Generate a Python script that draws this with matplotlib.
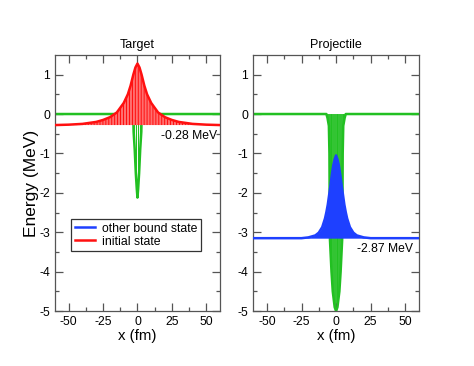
import matplotlib
matplotlib.use("Agg")
import matplotlib.pyplot as plt

plt.rcParams['font.family'] = ['Liberation Sans', 'DejaVu Sans']
plt.rcParams['axes.unicode_minus'] = False
plt.rcParams['hatch.linewidth'] = 0.8

# -----------------------------
# Data
# -----------------------------
# Target: potential well (MeV) vs x (fm)
x_pot_t = [-60, -3.2, -2.9, -2.8, -2.0, -1.2, -0.5, 0, 0.5, 1.2, 2.0, 2.8, 2.9, 3.2, 60]
v_pot_t = [0, 0, -0.3, -0.45, -0.9, -1.5, -1.9, -2.12, -1.9, -1.5, -0.9, -0.45, -0.3, 0, 0]

# Target: initial state wave function drawn on its energy level
e_init = -0.28
x_init = [-60, -50, -40, -30, -25, -20, -15, -10, -7, -5, -3, -1.5, 0,
          1.5, 3, 5, 7, 10, 15, 20, 25, 30, 40, 50, 60]
y_init = [-0.28, -0.27, -0.25, -0.20, -0.15, -0.08, 0.04, 0.28, 0.50, 0.72, 1.0, 1.18, 1.28,
          1.18, 1.0, 0.72, 0.50, 0.28, 0.04, -0.08, -0.15, -0.20, -0.25, -0.27, -0.28]

# Projectile: potential well
x_pot_p = [-60, -7, -6.2, -5.2, -4.8, -4.6, -4.4, -3.3, -2.4, -1.0, 0,
           1.0, 2.4, 3.3, 4.4, 4.6, 4.8, 5.2, 6.2, 7, 60]
v_pot_p = [0, 0, -0.1, -0.3, -1.0, -2.5, -3.2, -4.0, -4.5, -4.9, -5.0,
           -4.9, -4.5, -4.0, -3.2, -2.5, -1.0, -0.3, -0.1, 0, 0]

# Projectile: other bound state
e_other = -3.15
x_other = [-60, -25, -20, -15, -12.5, -10, -8, -7, -6, -5, -4, -3, -2, -1, 0,
           1, 2, 3, 4, 5, 6, 7, 8, 10, 12.5, 15, 20, 25, 60]
y_other = [-3.15, -3.15, -3.13, -3.08, -3.01, -2.87, -2.65, -2.49, -2.30, -2.05, -1.80, -1.53, -1.30, -1.15, -1.05,
           -1.15, -1.30, -1.53, -1.80, -2.05, -2.30, -2.49, -2.65, -2.87, -3.01, -3.08, -3.13, -3.15, -3.15]

labels = ["-0.28 MeV", "-2.87 MeV"]

red = '#ff1010'
green = '#22c022'
blue = '#1e40ff'
spine_col = '#555555'

fig = plt.figure(figsize=(4.74, 3.66), dpi=100)
ax1 = fig.add_axes([0.116, 0.150, 0.348, 0.700])
ax2 = fig.add_axes([0.534, 0.150, 0.350, 0.700])

for ax in (ax1, ax2):
    ax.set_xlim(-60, 60)
    ax.set_ylim(-5, 1.5)
    ax.set_xticks([-50, -25, 0, 25, 50])
    ax.set_xticks([-37.5, -12.5, 12.5, 37.5], minor=True)
    ax.set_yticks([-5, -4, -3, -2, -1, 0, 1])
    ax.set_yticks([-4.5, -3.5, -2.5, -1.5, -0.5, 0.5], minor=True)
    ax.tick_params(which='both', direction='in', top=True, right=True,
                   color=spine_col, labelsize=8.7, width=0.9)
    ax.tick_params(which='major', length=6)
    ax.tick_params(which='minor', length=3)
    for s in ax.spines.values():
        s.set_color(spine_col)
        s.set_linewidth(0.9)
    ax.set_xlabel("x (fm)", fontsize=10.8, labelpad=1)

# -----------------------------
# Target panel
# -----------------------------
ax1.fill_between(x_pot_t, 0, v_pot_t, facecolor='none', edgecolor=green,
                 hatch='|' * 8, linewidth=0, zorder=1)
ax1.plot(x_pot_t, v_pot_t, color=green, lw=1.8, zorder=2)
ax1.fill_between(x_init, e_init, y_init, facecolor='white', edgecolor=red,
                 hatch='|' * 11, linewidth=0, zorder=3)
ax1.plot([], [], color=blue, lw=1.8, label="other bound state")
ax1.plot(x_init, y_init, color=red, lw=1.8, zorder=4, label="initial state")
ax1.text(58, -0.57, labels[0], ha='right', va='center', fontsize=8.7)
ax1.set_title("Target", fontsize=9, pad=5)
ax1.set_ylabel("Energy (MeV)", fontsize=12.5, labelpad=0)
leg = ax1.legend(loc='upper left', bbox_to_anchor=(0.10, 0.36), borderaxespad=0,
                 fontsize=8.8, fancybox=False, framealpha=1, handlelength=1.6,
                 borderpad=0.3, labelspacing=0.1, handletextpad=0.6)
leg.get_frame().set_edgecolor('#333333')
leg.get_frame().set_linewidth(0.9)

# -----------------------------
# Projectile panel
# -----------------------------
ax2.fill_between(x_pot_p, 0, v_pot_p, facecolor='none', edgecolor=green,
                 hatch='|' * 14, linewidth=0, zorder=1)
ax2.plot(x_pot_p, v_pot_p, color=green, lw=1.8, zorder=2)
ax2.fill_between(x_other, e_other, y_other, color=blue, linewidth=0, zorder=3)
ax2.plot(x_other, y_other, color=blue, lw=1.8, zorder=4)
ax2.text(56, -3.43, labels[1], ha='right', va='center', fontsize=8.7)
ax2.set_title("Projectile", fontsize=9, pad=5)

fig.savefig("out.png", dpi=100)
